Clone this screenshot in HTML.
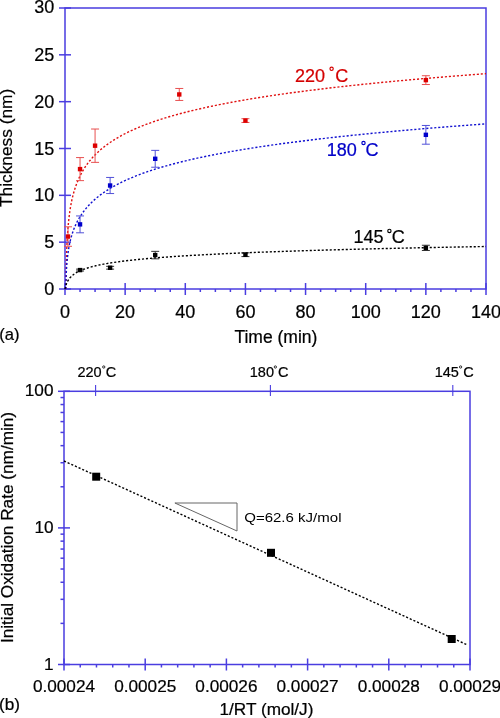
<!DOCTYPE html>
<html><head><meta charset="utf-8"><style>
html,body{margin:0;padding:0;background:#fff;width:500px;height:718px;overflow:hidden}
svg{display:block}
svg{will-change:transform}
text{stroke-width:0.22px}
text{font-family:"Liberation Sans",sans-serif}
</style></head><body>
<svg width="500" height="718" viewBox="0 0 500 718">
<rect x="65" y="8" width="421" height="281" fill="none" stroke="#4a3de0" stroke-width="1.5"/>
<line x1="65.00" y1="283" x2="65.00" y2="295" stroke="#4a3de0" stroke-width="1.5"/>
<text stroke="#000" x="65.00" y="318" fill="#000" font-size="18" text-anchor="middle">0</text>
<line x1="80.04" y1="289" x2="80.04" y2="292" stroke="#4a3de0" stroke-width="1.5"/>
<line x1="95.07" y1="289" x2="95.07" y2="292" stroke="#4a3de0" stroke-width="1.5"/>
<line x1="110.11" y1="289" x2="110.11" y2="292" stroke="#4a3de0" stroke-width="1.5"/>
<line x1="125.14" y1="283" x2="125.14" y2="295" stroke="#4a3de0" stroke-width="1.5"/>
<text stroke="#000" x="125.14" y="318" fill="#000" font-size="18" text-anchor="middle">20</text>
<line x1="140.18" y1="289" x2="140.18" y2="292" stroke="#4a3de0" stroke-width="1.5"/>
<line x1="155.21" y1="289" x2="155.21" y2="292" stroke="#4a3de0" stroke-width="1.5"/>
<line x1="170.25" y1="289" x2="170.25" y2="292" stroke="#4a3de0" stroke-width="1.5"/>
<line x1="185.29" y1="283" x2="185.29" y2="295" stroke="#4a3de0" stroke-width="1.5"/>
<text stroke="#000" x="185.29" y="318" fill="#000" font-size="18" text-anchor="middle">40</text>
<line x1="200.32" y1="289" x2="200.32" y2="292" stroke="#4a3de0" stroke-width="1.5"/>
<line x1="215.36" y1="289" x2="215.36" y2="292" stroke="#4a3de0" stroke-width="1.5"/>
<line x1="230.39" y1="289" x2="230.39" y2="292" stroke="#4a3de0" stroke-width="1.5"/>
<line x1="245.43" y1="283" x2="245.43" y2="295" stroke="#4a3de0" stroke-width="1.5"/>
<text stroke="#000" x="245.43" y="318" fill="#000" font-size="18" text-anchor="middle">60</text>
<line x1="260.46" y1="289" x2="260.46" y2="292" stroke="#4a3de0" stroke-width="1.5"/>
<line x1="275.50" y1="289" x2="275.50" y2="292" stroke="#4a3de0" stroke-width="1.5"/>
<line x1="290.54" y1="289" x2="290.54" y2="292" stroke="#4a3de0" stroke-width="1.5"/>
<line x1="305.57" y1="283" x2="305.57" y2="295" stroke="#4a3de0" stroke-width="1.5"/>
<text stroke="#000" x="305.57" y="318" fill="#000" font-size="18" text-anchor="middle">80</text>
<line x1="320.61" y1="289" x2="320.61" y2="292" stroke="#4a3de0" stroke-width="1.5"/>
<line x1="335.64" y1="289" x2="335.64" y2="292" stroke="#4a3de0" stroke-width="1.5"/>
<line x1="350.68" y1="289" x2="350.68" y2="292" stroke="#4a3de0" stroke-width="1.5"/>
<line x1="365.71" y1="283" x2="365.71" y2="295" stroke="#4a3de0" stroke-width="1.5"/>
<text stroke="#000" x="365.71" y="318" fill="#000" font-size="18" text-anchor="middle">100</text>
<line x1="380.75" y1="289" x2="380.75" y2="292" stroke="#4a3de0" stroke-width="1.5"/>
<line x1="395.79" y1="289" x2="395.79" y2="292" stroke="#4a3de0" stroke-width="1.5"/>
<line x1="410.82" y1="289" x2="410.82" y2="292" stroke="#4a3de0" stroke-width="1.5"/>
<line x1="425.86" y1="283" x2="425.86" y2="295" stroke="#4a3de0" stroke-width="1.5"/>
<text stroke="#000" x="425.86" y="318" fill="#000" font-size="18" text-anchor="middle">120</text>
<line x1="440.89" y1="289" x2="440.89" y2="292" stroke="#4a3de0" stroke-width="1.5"/>
<line x1="455.93" y1="289" x2="455.93" y2="292" stroke="#4a3de0" stroke-width="1.5"/>
<line x1="470.96" y1="289" x2="470.96" y2="292" stroke="#4a3de0" stroke-width="1.5"/>
<line x1="486.00" y1="283" x2="486.00" y2="295" stroke="#4a3de0" stroke-width="1.5"/>
<text stroke="#000" x="486.00" y="318" fill="#000" font-size="18" text-anchor="middle">140</text>
<line x1="59" y1="289.00" x2="71" y2="289.00" stroke="#4a3de0" stroke-width="1.5"/>
<text stroke="#000" x="54.3" y="295.00" font-size="18" text-anchor="end">0</text>
<line x1="59" y1="242.17" x2="71" y2="242.17" stroke="#4a3de0" stroke-width="1.5"/>
<text stroke="#000" x="54.3" y="248.17" font-size="18" text-anchor="end">5</text>
<line x1="59" y1="195.33" x2="71" y2="195.33" stroke="#4a3de0" stroke-width="1.5"/>
<text stroke="#000" x="54.3" y="201.33" font-size="18" text-anchor="end">10</text>
<line x1="59" y1="148.50" x2="71" y2="148.50" stroke="#4a3de0" stroke-width="1.5"/>
<text stroke="#000" x="54.3" y="154.50" font-size="18" text-anchor="end">15</text>
<line x1="59" y1="101.67" x2="71" y2="101.67" stroke="#4a3de0" stroke-width="1.5"/>
<text stroke="#000" x="54.3" y="107.67" font-size="18" text-anchor="end">20</text>
<line x1="59" y1="54.83" x2="71" y2="54.83" stroke="#4a3de0" stroke-width="1.5"/>
<text stroke="#000" x="54.3" y="60.83" font-size="18" text-anchor="end">25</text>
<line x1="59" y1="8.00" x2="71" y2="8.00" stroke="#4a3de0" stroke-width="1.5"/>
<text stroke="#000" x="54.3" y="12.60" font-size="18" text-anchor="end">30</text>
<text stroke="#000" x="275.9" y="342.6" font-size="17.5" text-anchor="middle">Time (min)</text>
<text stroke="#000" transform="translate(12.4,147.9) rotate(-90)" font-size="17.3" text-anchor="middle">Thickness (nm)</text>
<text stroke="#000" x="-0.8" y="339.8" font-size="16.6">(a)</text>
<polyline points="65.90,289.00 65.95,284.64 65.95,284.32 65.96,283.97 65.96,283.60 65.97,283.21 65.97,282.79 65.98,282.34 65.98,281.87 65.99,281.36 66.00,280.83 66.00,280.26 66.01,279.65 66.02,279.02 66.03,278.34 66.04,277.63 66.05,276.88 66.07,276.08 66.08,275.25 66.09,274.38 66.11,273.46 66.13,272.50 66.14,271.49 66.16,270.44 66.19,269.34 66.21,268.20 66.23,267.01 66.26,265.78 66.29,264.50 66.32,263.17 66.36,261.80 66.39,260.39 66.43,258.93 66.48,257.43 66.52,255.89 66.57,254.30 66.63,252.68 66.69,251.01 66.75,249.31 66.82,247.57 66.90,245.80 66.98,243.99 67.07,242.15 67.17,240.28 67.27,238.38 67.38,236.45 67.51,234.49 67.64,232.51 67.79,230.50 67.94,228.47 68.12,226.41 68.30,224.34 68.50,222.24 68.72,220.13 68.96,218.00 69.22,215.85 69.50,213.69 69.81,211.51 70.14,209.32 70.50,207.11 70.90,204.90 71.32,202.67 71.79,200.43 72.29,198.18 72.84,195.92 73.43,193.66 74.07,191.38 74.77,189.10 75.53,186.81 76.35,184.52 77.23,182.22 78.20,179.91 79.24,177.60 80.37,175.28 81.59,172.96 82.90,170.64 84.33,168.31 85.87,165.98 87.54,163.64 89.34,161.30 91.28,158.96 93.39,156.61 95.66,154.27 98.11,151.92 100.76,149.57 103.62,147.21 106.71,144.86 110.04,142.50 113.65,140.14 117.54,137.78 121.74,135.42 126.28,133.06 131.18,130.69 136.48,128.33 142.20,125.96 148.37,123.59 155.04,121.22 162.24,118.86 170.02,116.49 178.43,114.12 187.50,111.75 197.30,109.37 207.88,107.00 219.31,104.63 231.66,102.26 244.99,99.88 259.39,97.51 274.94,95.13 291.74,92.76 309.88,90.39 329.47,88.01 350.63,85.63 373.48,83.26 398.15,80.88 424.81,78.51 453.59,76.13 484.68,73.75 486.00,73.66" fill="none" stroke="#e01010" stroke-width="1.4" stroke-dasharray="2.1 1.9"/>
<polyline points="65.90,289.00 65.95,284.21 65.95,283.98 65.96,283.74 65.96,283.49 65.97,283.24 65.97,282.97 65.98,282.68 65.98,282.39 65.99,282.08 66.00,281.76 66.00,281.43 66.01,281.08 66.02,280.72 66.03,280.34 66.04,279.94 66.05,279.53 66.07,279.11 66.08,278.66 66.09,278.20 66.11,277.72 66.13,277.22 66.14,276.70 66.16,276.16 66.19,275.60 66.21,275.02 66.23,274.42 66.26,273.79 66.29,273.15 66.32,272.47 66.36,271.78 66.39,271.06 66.43,270.32 66.48,269.55 66.52,268.76 66.57,267.94 66.63,267.09 66.69,266.22 66.75,265.31 66.82,264.39 66.90,263.43 66.98,262.45 67.07,261.43 67.17,260.39 67.27,259.32 67.38,258.23 67.51,257.10 67.64,255.94 67.79,254.76 67.94,253.54 68.12,252.30 68.30,251.02 68.50,249.72 68.72,248.39 68.96,247.03 69.22,245.64 69.50,244.23 69.81,242.78 70.14,241.31 70.50,239.81 70.90,238.28 71.32,236.73 71.79,235.15 72.29,233.54 72.84,231.91 73.43,230.25 74.07,228.57 74.77,226.86 75.53,225.13 76.35,223.38 77.23,221.60 78.20,219.81 79.24,217.99 80.37,216.14 81.59,214.28 82.90,212.40 84.33,210.50 85.87,208.58 87.54,206.64 89.34,204.69 91.28,202.71 93.39,200.72 95.66,198.72 98.11,196.69 100.76,194.66 103.62,192.60 106.71,190.54 110.04,188.46 113.65,186.36 117.54,184.26 121.74,182.14 126.28,180.01 131.18,177.87 136.48,175.71 142.20,173.55 148.37,171.38 155.04,169.19 162.24,167.00 170.02,164.80 178.43,162.59 187.50,160.37 197.30,158.14 207.88,155.91 219.31,153.67 231.66,151.42 244.99,149.16 259.39,146.90 274.94,144.63 291.74,142.36 309.88,140.08 329.47,137.79 350.63,135.50 373.48,133.21 398.15,130.91 424.81,128.60 453.59,126.29 484.68,123.98 486.00,123.88" fill="none" stroke="#1010d0" stroke-width="1.4" stroke-dasharray="2.1 1.9"/>
<polyline points="65.00,289.00 65.06,288.70 65.06,288.67 65.07,288.65 65.08,288.62 65.08,288.59 65.09,288.56 65.10,288.52 65.10,288.49 65.11,288.45 65.12,288.40 65.13,288.36 65.14,288.31 65.15,288.26 65.16,288.20 65.18,288.14 65.19,288.08 65.21,288.01 65.22,287.93 65.24,287.85 65.26,287.77 65.28,287.68 65.30,287.58 65.33,287.48 65.35,287.37 65.38,287.25 65.41,287.13 65.44,287.00 65.48,286.86 65.52,286.71 65.56,286.56 65.61,286.39 65.65,286.22 65.71,286.03 65.76,285.84 65.82,285.64 65.89,285.42 65.96,285.20 66.04,284.96 66.12,284.72 66.21,284.46 66.31,284.19 66.41,283.91 66.52,283.62 66.65,283.32 66.78,283.01 66.92,282.69 67.07,282.36 67.24,282.01 67.42,281.66 67.61,281.29 67.82,280.91 68.05,280.53 68.29,280.13 68.55,279.73 68.84,279.32 69.14,278.89 69.48,278.46 69.83,278.02 70.22,277.57 70.64,277.12 71.09,276.66 71.58,276.19 72.10,275.71 72.67,275.23 73.29,274.74 73.95,274.25 74.66,273.75 75.44,273.25 76.27,272.74 77.17,272.23 78.15,271.71 79.20,271.19 80.34,270.66 81.56,270.13 82.89,269.60 84.32,269.07 85.86,268.53 87.53,267.99 89.34,267.45 91.28,266.90 93.38,266.35 95.66,265.80 98.11,265.25 100.76,264.70 103.62,264.14 106.71,263.59 110.04,263.03 113.65,262.47 117.54,261.91 121.74,261.35 126.28,260.78 131.18,260.22 136.48,259.66 142.20,259.09 148.37,258.52 155.04,257.96 162.24,257.39 170.02,256.82 178.43,256.25 187.50,255.68 197.30,255.11 207.88,254.54 219.31,253.97 231.66,253.40 244.99,252.83 259.39,252.25 274.94,251.68 291.74,251.11 309.88,250.53 329.47,249.96 350.63,249.39 373.48,248.81 398.15,248.24 424.81,247.67 453.59,247.09 484.68,246.52 486.00,246.49" fill="none" stroke="#000" stroke-width="1.4" stroke-dasharray="2.1 1.9"/>
<g stroke="#e85050" stroke-width="1"><line x1="68.01" y1="226.81" x2="68.01" y2="246.29"/><line x1="64.01" y1="226.81" x2="72.01" y2="226.81"/><line x1="64.01" y1="246.29" x2="72.01" y2="246.29"/></g>
<rect x="65.81" y="234.35" width="4.4" height="4.4" fill="#dd0000"/>
<g stroke="#e85050" stroke-width="1"><line x1="80.04" y1="157.59" x2="80.04" y2="180.63"/><line x1="76.04" y1="157.59" x2="84.04" y2="157.59"/><line x1="76.04" y1="180.63" x2="84.04" y2="180.63"/></g>
<rect x="77.84" y="166.91" width="4.4" height="4.4" fill="#dd0000"/>
<g stroke="#e85050" stroke-width="1"><line x1="95.07" y1="129.02" x2="95.07" y2="162.36"/><line x1="91.07" y1="129.02" x2="99.07" y2="129.02"/><line x1="91.07" y1="162.36" x2="99.07" y2="162.36"/></g>
<rect x="92.87" y="143.49" width="4.4" height="4.4" fill="#dd0000"/>
<g stroke="#e85050" stroke-width="1"><line x1="179.27" y1="88.46" x2="179.27" y2="100.45"/><line x1="175.27" y1="88.46" x2="183.27" y2="88.46"/><line x1="175.27" y1="100.45" x2="183.27" y2="100.45"/></g>
<rect x="177.07" y="92.25" width="4.4" height="4.4" fill="#dd0000"/>
<g stroke="#e85050" stroke-width="1"><line x1="245.43" y1="118.71" x2="245.43" y2="122.46"/><line x1="241.43" y1="118.71" x2="249.43" y2="118.71"/><line x1="241.43" y1="122.46" x2="249.43" y2="122.46"/></g>
<rect x="243.23" y="118.39" width="4.4" height="4.4" fill="#dd0000"/>
<g stroke="#e85050" stroke-width="1"><line x1="425.86" y1="75.72" x2="425.86" y2="84.53"/><line x1="421.86" y1="75.72" x2="429.86" y2="75.72"/><line x1="421.86" y1="84.53" x2="429.86" y2="84.53"/></g>
<rect x="423.66" y="77.92" width="4.4" height="4.4" fill="#dd0000"/>
<g stroke="#5050d8" stroke-width="1"><line x1="80.04" y1="215.94" x2="80.04" y2="232.80"/><line x1="76.04" y1="215.94" x2="84.04" y2="215.94"/><line x1="76.04" y1="232.80" x2="84.04" y2="232.80"/></g>
<rect x="77.84" y="222.17" width="4.4" height="4.4" fill="#0000cc"/>
<g stroke="#5050d8" stroke-width="1"><line x1="110.11" y1="177.44" x2="110.11" y2="193.55"/><line x1="106.11" y1="177.44" x2="114.11" y2="177.44"/><line x1="106.11" y1="193.55" x2="114.11" y2="193.55"/></g>
<rect x="107.91" y="183.30" width="4.4" height="4.4" fill="#0000cc"/>
<g stroke="#5050d8" stroke-width="1"><line x1="155.21" y1="150.37" x2="155.21" y2="167.23"/><line x1="151.21" y1="150.37" x2="159.21" y2="150.37"/><line x1="151.21" y1="167.23" x2="159.21" y2="167.23"/></g>
<rect x="153.01" y="156.60" width="4.4" height="4.4" fill="#0000cc"/>
<g stroke="#5050d8" stroke-width="1"><line x1="425.86" y1="125.46" x2="425.86" y2="144.19"/><line x1="421.86" y1="125.46" x2="429.86" y2="125.46"/><line x1="421.86" y1="144.19" x2="429.86" y2="144.19"/></g>
<rect x="423.66" y="132.62" width="4.4" height="4.4" fill="#0000cc"/>
<g stroke="#333" stroke-width="1"><line x1="80.04" y1="269.14" x2="80.04" y2="271.02"/><line x1="76.04" y1="269.14" x2="84.04" y2="269.14"/><line x1="76.04" y1="271.02" x2="84.04" y2="271.02"/></g>
<rect x="77.84" y="267.88" width="4.4" height="4.4" fill="#000"/>
<g stroke="#333" stroke-width="1"><line x1="110.11" y1="266.33" x2="110.11" y2="269.14"/><line x1="106.11" y1="266.33" x2="114.11" y2="266.33"/><line x1="106.11" y1="269.14" x2="114.11" y2="269.14"/></g>
<rect x="107.91" y="265.54" width="4.4" height="4.4" fill="#000"/>
<g stroke="#333" stroke-width="1"><line x1="155.21" y1="251.35" x2="155.21" y2="258.84"/><line x1="151.21" y1="251.35" x2="159.21" y2="251.35"/><line x1="151.21" y1="258.84" x2="159.21" y2="258.84"/></g>
<rect x="153.01" y="252.89" width="4.4" height="4.4" fill="#000"/>
<g stroke="#333" stroke-width="1"><line x1="245.43" y1="252.84" x2="245.43" y2="256.59"/><line x1="241.43" y1="252.84" x2="249.43" y2="252.84"/><line x1="241.43" y1="256.59" x2="249.43" y2="256.59"/></g>
<rect x="243.23" y="252.52" width="4.4" height="4.4" fill="#000"/>
<g stroke="#333" stroke-width="1"><line x1="425.86" y1="245.26" x2="425.86" y2="250.50"/><line x1="421.86" y1="245.26" x2="429.86" y2="245.26"/><line x1="421.86" y1="250.50" x2="429.86" y2="250.50"/></g>
<rect x="423.66" y="245.68" width="4.4" height="4.4" fill="#000"/>
<text stroke="#d40000" x="294.9" y="81.8" font-size="18" fill="#d40000">220</text>
<circle cx="331.6" cy="68.8" r="1.65" fill="none" stroke="#d40000" stroke-width="1.15"/>
<text stroke="#d40000" x="335.2" y="81.8" font-size="18" fill="#d40000">C</text>
<text stroke="#0000c8" x="326.8" y="156.0" font-size="18" fill="#0000c8">180</text>
<circle cx="363.5" cy="143" r="1.65" fill="none" stroke="#0000c8" stroke-width="1.15"/>
<text stroke="#0000c8" x="365.6" y="156.0" font-size="18" fill="#0000c8">C</text>
<text stroke="#000" x="353.4" y="243.0" font-size="18" fill="#000">145</text>
<circle cx="389.4" cy="230.9" r="1.65" fill="none" stroke="#000" stroke-width="1.15"/>
<text stroke="#000" x="391.8" y="243.0" font-size="18" fill="#000">C</text>
<rect x="64" y="391.3" width="406" height="273.2" fill="none" stroke="#4a3de0" stroke-width="1.5"/>
<line x1="64.00" y1="658.5" x2="64.00" y2="670.5" stroke="#4a3de0" stroke-width="1.5"/>
<text stroke="#000" x="64.00" y="691.5" font-size="17.2" text-anchor="middle">0.00024</text>
<line x1="80.24" y1="664.5" x2="80.24" y2="667.5" stroke="#4a3de0" stroke-width="1.5"/>
<line x1="96.48" y1="664.5" x2="96.48" y2="667.5" stroke="#4a3de0" stroke-width="1.5"/>
<line x1="112.72" y1="664.5" x2="112.72" y2="667.5" stroke="#4a3de0" stroke-width="1.5"/>
<line x1="128.96" y1="664.5" x2="128.96" y2="667.5" stroke="#4a3de0" stroke-width="1.5"/>
<line x1="145.20" y1="658.5" x2="145.20" y2="670.5" stroke="#4a3de0" stroke-width="1.5"/>
<text stroke="#000" x="145.20" y="691.5" font-size="17.2" text-anchor="middle">0.00025</text>
<line x1="161.44" y1="664.5" x2="161.44" y2="667.5" stroke="#4a3de0" stroke-width="1.5"/>
<line x1="177.68" y1="664.5" x2="177.68" y2="667.5" stroke="#4a3de0" stroke-width="1.5"/>
<line x1="193.92" y1="664.5" x2="193.92" y2="667.5" stroke="#4a3de0" stroke-width="1.5"/>
<line x1="210.16" y1="664.5" x2="210.16" y2="667.5" stroke="#4a3de0" stroke-width="1.5"/>
<line x1="226.40" y1="658.5" x2="226.40" y2="670.5" stroke="#4a3de0" stroke-width="1.5"/>
<text stroke="#000" x="226.40" y="691.5" font-size="17.2" text-anchor="middle">0.00026</text>
<line x1="242.64" y1="664.5" x2="242.64" y2="667.5" stroke="#4a3de0" stroke-width="1.5"/>
<line x1="258.88" y1="664.5" x2="258.88" y2="667.5" stroke="#4a3de0" stroke-width="1.5"/>
<line x1="275.12" y1="664.5" x2="275.12" y2="667.5" stroke="#4a3de0" stroke-width="1.5"/>
<line x1="291.36" y1="664.5" x2="291.36" y2="667.5" stroke="#4a3de0" stroke-width="1.5"/>
<line x1="307.60" y1="658.5" x2="307.60" y2="670.5" stroke="#4a3de0" stroke-width="1.5"/>
<text stroke="#000" x="307.60" y="691.5" font-size="17.2" text-anchor="middle">0.00027</text>
<line x1="323.84" y1="664.5" x2="323.84" y2="667.5" stroke="#4a3de0" stroke-width="1.5"/>
<line x1="340.08" y1="664.5" x2="340.08" y2="667.5" stroke="#4a3de0" stroke-width="1.5"/>
<line x1="356.32" y1="664.5" x2="356.32" y2="667.5" stroke="#4a3de0" stroke-width="1.5"/>
<line x1="372.56" y1="664.5" x2="372.56" y2="667.5" stroke="#4a3de0" stroke-width="1.5"/>
<line x1="388.80" y1="658.5" x2="388.80" y2="670.5" stroke="#4a3de0" stroke-width="1.5"/>
<text stroke="#000" x="388.80" y="691.5" font-size="17.2" text-anchor="middle">0.00028</text>
<line x1="405.04" y1="664.5" x2="405.04" y2="667.5" stroke="#4a3de0" stroke-width="1.5"/>
<line x1="421.28" y1="664.5" x2="421.28" y2="667.5" stroke="#4a3de0" stroke-width="1.5"/>
<line x1="437.52" y1="664.5" x2="437.52" y2="667.5" stroke="#4a3de0" stroke-width="1.5"/>
<line x1="453.76" y1="664.5" x2="453.76" y2="667.5" stroke="#4a3de0" stroke-width="1.5"/>
<line x1="470.00" y1="658.5" x2="470.00" y2="670.5" stroke="#4a3de0" stroke-width="1.5"/>
<text stroke="#000" x="470.00" y="691.5" font-size="17.2" text-anchor="middle">0.00029</text>
<line x1="60.5" y1="623.38" x2="64" y2="623.38" stroke="#4a3de0" stroke-width="1.5"/>
<line x1="60.5" y1="599.33" x2="64" y2="599.33" stroke="#4a3de0" stroke-width="1.5"/>
<line x1="60.5" y1="582.26" x2="64" y2="582.26" stroke="#4a3de0" stroke-width="1.5"/>
<line x1="60.5" y1="569.02" x2="64" y2="569.02" stroke="#4a3de0" stroke-width="1.5"/>
<line x1="60.5" y1="558.20" x2="64" y2="558.20" stroke="#4a3de0" stroke-width="1.5"/>
<line x1="60.5" y1="549.06" x2="64" y2="549.06" stroke="#4a3de0" stroke-width="1.5"/>
<line x1="60.5" y1="541.14" x2="64" y2="541.14" stroke="#4a3de0" stroke-width="1.5"/>
<line x1="60.5" y1="534.15" x2="64" y2="534.15" stroke="#4a3de0" stroke-width="1.5"/>
<line x1="60.5" y1="486.78" x2="64" y2="486.78" stroke="#4a3de0" stroke-width="1.5"/>
<line x1="60.5" y1="462.73" x2="64" y2="462.73" stroke="#4a3de0" stroke-width="1.5"/>
<line x1="60.5" y1="445.66" x2="64" y2="445.66" stroke="#4a3de0" stroke-width="1.5"/>
<line x1="60.5" y1="432.42" x2="64" y2="432.42" stroke="#4a3de0" stroke-width="1.5"/>
<line x1="60.5" y1="421.60" x2="64" y2="421.60" stroke="#4a3de0" stroke-width="1.5"/>
<line x1="60.5" y1="412.46" x2="64" y2="412.46" stroke="#4a3de0" stroke-width="1.5"/>
<line x1="60.5" y1="404.54" x2="64" y2="404.54" stroke="#4a3de0" stroke-width="1.5"/>
<line x1="60.5" y1="397.55" x2="64" y2="397.55" stroke="#4a3de0" stroke-width="1.5"/>
<line x1="58" y1="664.50" x2="70" y2="664.50" stroke="#4a3de0" stroke-width="1.5"/>
<text stroke="#000" x="53.5" y="669.50" font-size="17.2" text-anchor="end">1</text>
<line x1="58" y1="527.90" x2="70" y2="527.90" stroke="#4a3de0" stroke-width="1.5"/>
<text stroke="#000" x="53.5" y="532.90" font-size="17.2" text-anchor="end">10</text>
<line x1="58" y1="391.30" x2="70" y2="391.30" stroke="#4a3de0" stroke-width="1.5"/>
<text stroke="#000" x="53.5" y="396.30" font-size="17.2" text-anchor="end">100</text>
<line x1="95.6" y1="385" x2="95.6" y2="396" stroke="#4a3de0" stroke-width="1.1"/>
<text stroke="#000" x="77.4" y="376.6" font-size="14.5">220</text>
<circle cx="103.75" cy="367" r="1.15" fill="none" stroke="#000" stroke-width="0.8"/>
<text stroke="#000" x="105.7" y="376.6" font-size="14.5">C</text>
<line x1="270.4" y1="385" x2="270.4" y2="396" stroke="#4a3de0" stroke-width="1.1"/>
<text stroke="#000" x="249.8" y="376.6" font-size="14.5">180</text>
<circle cx="275.35" cy="367" r="1.15" fill="none" stroke="#000" stroke-width="0.8"/>
<text stroke="#000" x="278.0" y="376.6" font-size="14.5">C</text>
<line x1="452.8" y1="385" x2="452.8" y2="396" stroke="#4a3de0" stroke-width="1.1"/>
<text stroke="#000" x="434.7" y="376.6" font-size="14.5">145</text>
<circle cx="460.6" cy="367" r="1.15" fill="none" stroke="#000" stroke-width="0.8"/>
<text stroke="#000" x="463.2" y="376.6" font-size="14.5">C</text>
<text stroke="#000" x="266.5" y="715.4" font-size="17.2" text-anchor="middle">1/RT (mol/J)</text>
<text stroke="#000" transform="translate(13,527.5) rotate(-90)" font-size="17.2" text-anchor="middle">Initial Oxidation Rate (nm/min)</text>
<text stroke="#000" x="-1" y="709.6" font-size="17.2">(b)</text>
<line x1="64" y1="461" x2="468" y2="645.2" stroke="#000" stroke-width="1.4" stroke-dasharray="2.1 1.9"/>
<rect x="92.2" y="472.7" width="8" height="8" fill="#000"/>
<rect x="267" y="548.8" width="8" height="8" fill="#000"/>
<rect x="447.7" y="635" width="8" height="8" fill="#000"/>
<polygon points="174.9,503 237,503 237,531" fill="none" stroke="#666" stroke-width="1"/>
<text x="244.2" y="521.6" font-size="13.3" transform="translate(244.2 0) scale(1.13 1) translate(-244.2 0)">Q=62.6 kJ/mol</text>
</svg></body></html>
